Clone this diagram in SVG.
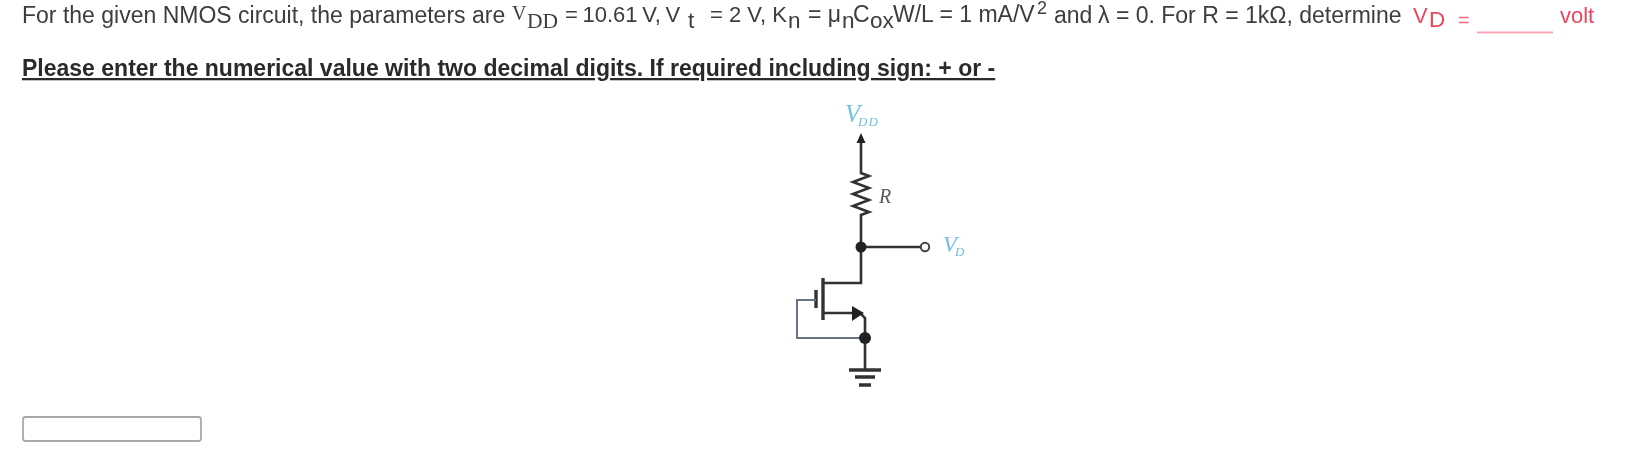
<svg xmlns="http://www.w3.org/2000/svg" width="1635" height="475" viewBox="0 0 1635 475">
<style>
.t{font-family:"Liberation Sans",Arial,sans-serif;font-size:23px;fill:#3c3c3c}
.s{font-family:"Liberation Sans",Arial,sans-serif;font-size:22.5px;fill:#3c3c3c}
.serif{font-family:"Liberation Serif",serif;fill:#3c3c3c}
.red{fill:#e8475f}
.b{font-family:"Liberation Sans",Arial,sans-serif;font-size:23px;font-weight:bold;fill:#2a2a2a;text-decoration:underline}
.w{fill:none;stroke:#333;stroke-width:2.6}
.lbl{font-family:"Liberation Serif",serif;font-style:italic;fill:#74c0e2}
</style>
<defs><filter id="soft" filterUnits="userSpaceOnUse" x="0" y="0" width="1635" height="475"><feGaussianBlur stdDeviation="0.55"/></filter></defs>
<rect width="1635" height="475" fill="#fff"/>
<g filter="url(#soft)">
<g id="question">
<text class="t" x="22" y="23">For the given NMOS circuit, the parameters are</text>
<text class="serif" x="512" y="20" font-size="20">V</text><text class="serif" x="527" y="28" font-size="21.500">DD</text>
<text class="t" x="565" y="22" word-spacing="-1.500" style="font-size:22px">= 10.61 V, V</text><text class="s" x="688" y="28">t</text>
<text class="t" x="710" y="22" style="font-size:22px">= 2 V, K</text><text class="s" x="788" y="28">n</text>
<text class="t" x="808" y="22">= μ</text><text class="s" x="842" y="28">n</text>
<text class="t" x="853" y="22">C</text><text class="s" x="870" y="28">ox</text>
<text class="t" x="893" y="22">W/L = 1 mA/V</text><text class="s" x="1037" y="14" style="font-size:18px">2</text>
<text class="t" x="1054" y="23">and</text>
<text class="t" x="1098" y="23">λ = 0. For R = 1kΩ, determine</text>
<text class="t red" x="1413" y="23" style="font-size:22px">V</text><text class="s red" x="1429" y="27">D</text>
<text class="t red" x="1458" y="27" style="font-size:20px;fill-opacity:.8">=</text>
<rect x="1477" y="31.500" width="76" height="2" fill="#f7a8b4"/>
<text class="t red" x="1560" y="23" style="font-size:22px">volt</text>
<text class="b" x="22" y="76">Please enter the numerical value with two decimal digits. If required including sign: + or -</text>
</g>
<g id="connectors">
<path class="w" d="M861 140V173l8 3-16 6 16 6-16 6 16 6-16 6 16 6-8 3V283H823"/>
<path class="w" d="M861 247H921"/>
<path class="w" d="M823 278V320" style="stroke-width:3.4"/>
<path class="w" d="M816 290V308" style="stroke-width:3.4"/>
<path class="w" d="M816 300H797V338H865" style="stroke:#6a7388;stroke-width:2"/>
<path class="w" d="M823 313H860L865 318V370"/>
</g>
<g id="vdd"><path d="M861 133l-4.500 10h9z" fill="#222"/><text class="lbl" x="845" y="122" font-size="25">V</text><text class="lbl" x="858" y="126" font-size="13" letter-spacing="1">DD</text></g>
<g id="r"><text x="879" y="203" font-size="20" font-style="italic" class="serif" fill-opacity="0.85">R</text></g>
<g id="vd"><circle cx="925" cy="247" r="4.200" fill="#fff" stroke="#444" stroke-width="2"/><text class="lbl" x="943" y="252" font-size="23">V</text><text class="lbl" x="955" y="256" font-size="13">D</text></g>
<g id="node-d"><circle cx="861" cy="247" r="5.500" fill="#222"/></g>
<g id="mos"><path d="M852 306l12 7-12 8z" fill="#222"/></g>
<g id="node-s"><circle cx="865" cy="338" r="6" fill="#222"/></g>
<g id="ground"><path class="w" d="M849 370H881M855 377H875M859 385H871" style="stroke-width:3.4"/></g>
<g id="answer"><rect x="23" y="417" width="178" height="24" rx="2.500" fill="#fff" stroke="#a8a8a8" stroke-width="1.800"/></g>
</g>
</svg>
